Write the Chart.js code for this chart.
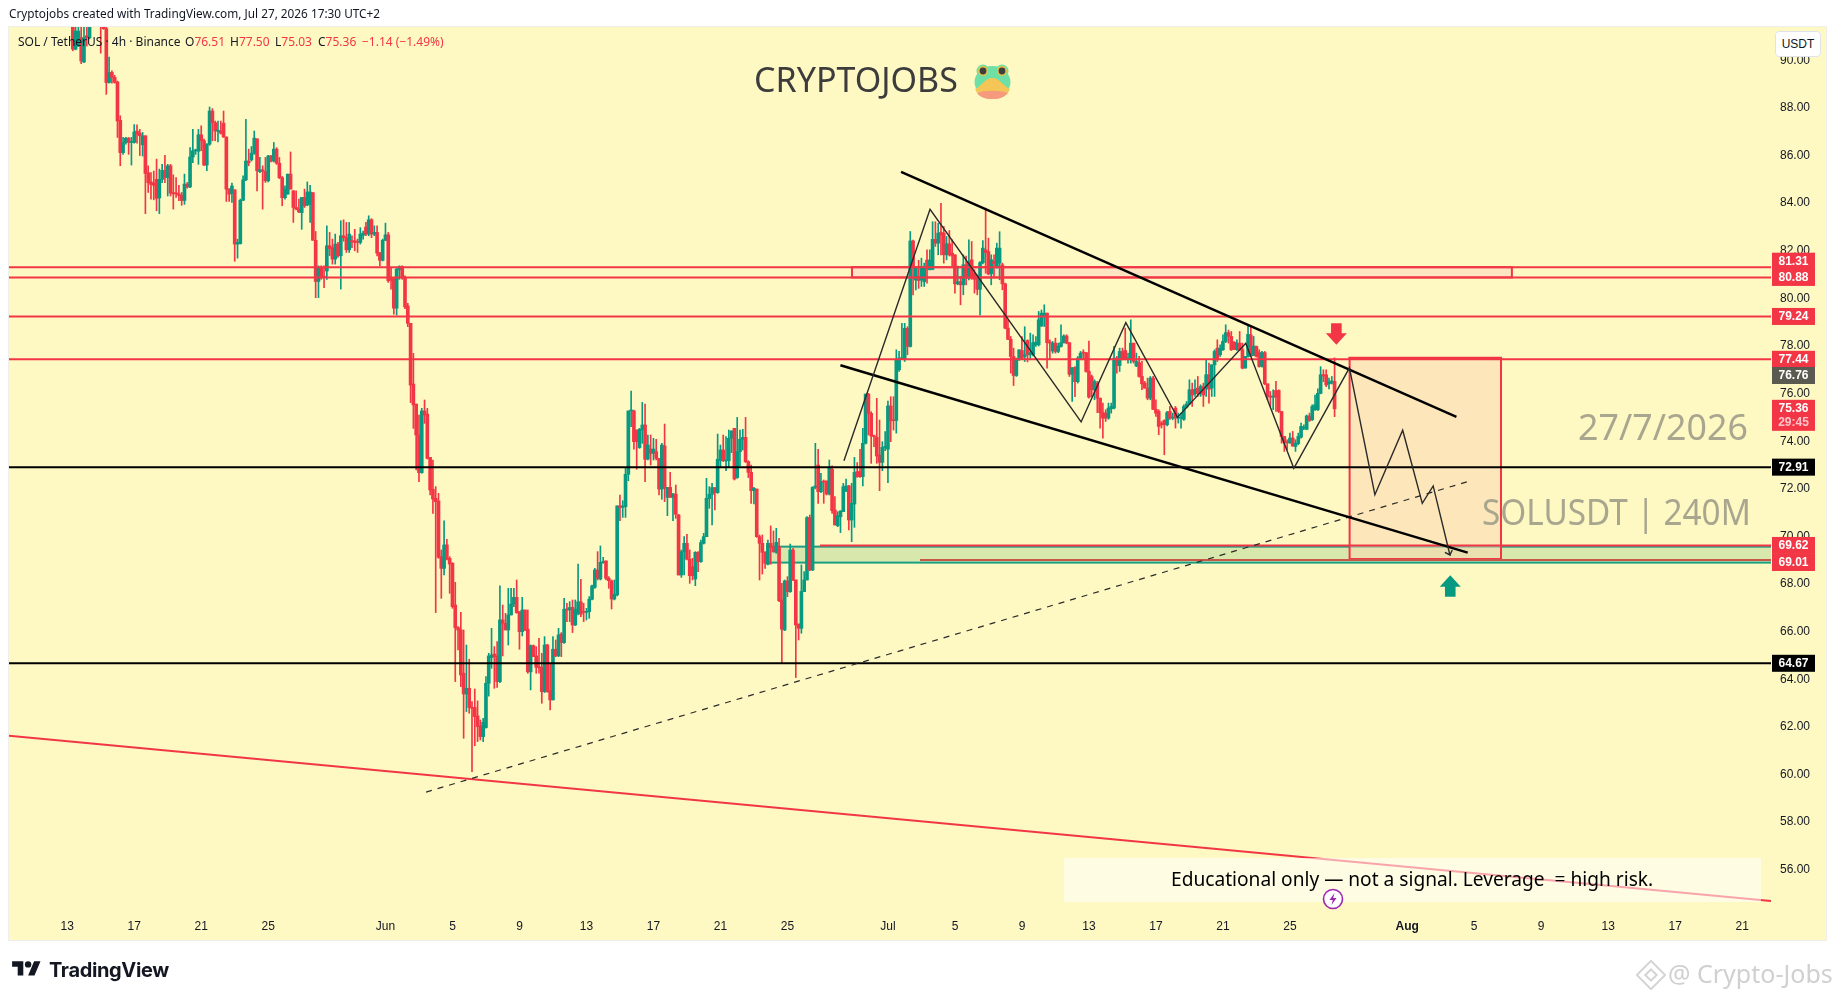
<!DOCTYPE html>
<html>
<head>
<meta charset="utf-8">
<title>SOLUSDT 240M</title>
<script src="https://cdn.jsdelivr.net/npm/chart.js@4"></script>
<style>
  html, body { margin: 0; padding: 0; background: #fff; overflow: hidden; }
  #wrap { position: relative; width: 1835px; height: 1000px; }
  #chart { position: absolute; left: 0; top: 0; }
  .t { position: absolute; white-space: pre; font-family: "Noto Sans", sans-serif; line-height: 1; }
  .leg { font-size: 12px; color: #131722; top: 36px; }
  .leg b { font-weight: normal; color: #f23645; }
  #note { position: absolute; left: 1064px; top: 858px; width: 697px; height: 44px; background: rgba(255,255,255,.55); }
  #usdt { position: absolute; left: 1775px; top: 31px; width: 44px; height: 24px; background: #fff; border: 1px solid #e0e3eb; border-radius: 4px;
          font: 12px "Liberation Sans", sans-serif; color: #131722; text-align: center; line-height: 24px; }
</style>
</head>
<body>
<div id="wrap">
  <canvas id="chart" width="1835" height="1000"></canvas>

  <div class="t" style="left:9px;top:8px;font-size:11.8px;color:#131722">Cryptojobs created with TradingView.com, Jul 27, 2026 17:30 UTC+2</div>
  <div class="t leg" style="left:18px">SOL / TetherUS · 4h · Binance</div>
  <div class="t leg" style="left:185px">O<b>76.51</b></div>
  <div class="t leg" style="left:230px">H<b>77.50</b></div>
  <div class="t leg" style="left:275px">L<b>75.03</b></div>
  <div class="t leg" style="left:318px">C<b>75.36</b></div>
  <div class="t leg" style="left:362px"><b>−1.14 (−1.49%)</b></div>

  <div class="t" style="left:754px;top:62px;font-size:34px;color:#3c3c3c">CRYPTOJOBS</div>
  <svg style="position:absolute;left:974px;top:62px" width="38" height="38" viewBox="0 0 38 38">
    <circle cx="9" cy="9" r="6.5" fill="#6fe0a5"/><circle cx="28" cy="9" r="6.5" fill="#6fe0a5"/>
    <ellipse cx="18.5" cy="20" rx="18" ry="16" fill="#6fe0a5"/>
    <path d="M1 27 C8 24 11 16 18 16 C26 16 29 24 36 27 C33 34 27 37 18.5 37 C10 37 4 34 1 27 Z" fill="#f5c556"/>
    <path d="M3 31 C10 28 27 28 34 31 C30 35 26 37 18.5 37 C11 37 6 35 3 31 Z" fill="#f59a7c"/>
    <circle cx="9" cy="9" r="5" fill="#e6c34a"/><circle cx="9" cy="9" r="3.4" fill="#3f3f3f"/>
    <circle cx="28" cy="9" r="5" fill="#e6c34a"/><circle cx="28" cy="9" r="3.4" fill="#3f3f3f"/>
  </svg>

  <div class="t" style="left:1578px;top:407px;font-size:37px;color:#a9a68f;transform:scaleX(.967);transform-origin:left">27/7/2026</div>
  <div class="t" style="left:1482px;top:494px;font-size:36px;color:#a9a68f;transform:scaleX(.925);transform-origin:left">SOLUSDT | 240M</div>

  <div id="note"></div>
  <div class="t" style="left:1171px;top:870px;font-size:19.15px;color:#000">Educational only — not a signal. Leverage  = high risk.</div>
  <svg style="position:absolute;left:1322px;top:888px" width="22" height="22" viewBox="0 0 22 22">
    <circle cx="11" cy="11" r="9.5" fill="#fff" stroke="#9c27b0" stroke-width="1.6"/>
    <path d="M12.5 5 L7.5 12 H10.8 L9.5 17 L14.5 10 H11.2 Z" fill="#9c27b0"/>
  </svg>

  <div id="usdt">USDT</div>

  <svg style="position:absolute;left:12px;top:958px" width="29" height="22.4" viewBox="0 0 36 28">
    <path d="M14 22H7V11H0V4h14v18zM28 22h-8l7.5-18h8L28 22z" fill="#131722"/><circle cx="20" cy="8" r="4" fill="#131722"/>
  </svg>
  <div class="t" style="left:49px;top:958px;font:700 20px Inter,sans-serif;letter-spacing:-.35px;color:#131722">TradingView</div>

  <svg style="position:absolute;left:1636px;top:960px" width="30" height="30" viewBox="0 0 30 30">
    <g fill="none" stroke="#d4d4d4" stroke-width="2">
      <rect x="5" y="5" width="20" height="20" transform="rotate(45 15 15)"/>
      <rect x="11" y="11" width="8" height="8" transform="rotate(45 15 15)"/>
    </g>
  </svg>
  <div class="t" style="left:1668px;top:961px;font-size:25px;color:#d0d0d0">@ Crypto-Jobs</div>
</div>

<script>
// candles, 4h
var opens = [
  92.4,90.47,90.6,90.95,89.93,91.03,90.95,91.6,92.4,92.9,
  92.5,92.0,91.33,89.07,89.49,89.28,89.09,87.48,86.12,86.55,
  86.73,86.55,86.55,87.03,86.94,86.45,86.83,85.28,84.89,84.84,
  85.0,84.22,85.0,85.38,85.07,85.57,84.44,84.42,84.39,84.33,
  84.11,84.8,84.68,85.94,86.2,86.18,86.87,86.62,85.6,86.48,
  87.87,87.38,87.02,87.03,87.36,86.78,84.59,84.4,84.56,82.28,
  82.3,84.12,84.98,85.77,85.82,86.1,86.7,85.33,85.4,85.33,
  84.94,85.98,85.77,86.27,85.68,85.07,84.23,84.38,85.22,84.52,
  83.82,83.75,83.6,84.24,83.92,83.95,84.44,82.44,80.71,81.3,
  80.91,81.15,82.21,82.13,81.65,82.28,81.79,82.63,82.55,82.04,
  82.42,82.42,82.37,82.35,82.65,83.0,82.7,83.3,82.7,82.77,
  81.9,81.6,82.44,82.67,80.83,80.83,79.59,81.2,81.34,80.88,
  79.68,78.95,76.4,75.56,74.26,72.68,75.27,75.14,73.32,71.98,
  71.6,71.49,69.15,68.66,69.64,69.08,68.87,67.12,66.17,66.07,
  64.25,63.38,63.62,62.82,62.81,62.46,62.04,61.59,61.97,63.83,
  64.91,65.06,64.98,63.9,66.49,66.35,66.07,66.7,67.16,67.44,
  66.84,66.0,66.91,66.1,64.31,65.41,64.98,64.53,64.5,63.48,
  65.44,63.52,63.13,65.26,64.98,65.9,65.54,66.94,66.91,67.02,
  66.28,66.77,67.25,66.84,66.81,66.84,67.36,67.86,68.59,68.21,
  68.9,68.97,68.24,68.13,67.37,67.54,71.28,71.22,71.25,72.61,
  75.27,75.27,74.47,73.73,74.47,74.68,73.25,73.67,73.49,73.56,
  73.28,71.99,73.8,71.64,72.06,71.64,71.78,70.9,68.38,69.36,
  69.71,69.04,68.73,68.21,69.33,68.94,69.71,69.99,71.59,71.77,
  72.05,71.84,73.18,73.63,73.17,73.18,74.12,74.54,72.47,73.56,
  74.08,74.16,73.14,72.69,71.92,71.99,69.99,69.71,69.33,68.83,
  69.71,69.57,69.33,69.57,67.33,66.07,68.13,67.68,69.43,68.17,
  66.32,66.14,67.68,68.17,70.79,68.59,72.06,73.0,71.88,72.3,
  72.33,71.78,72.82,71.11,70.45,70.83,71.04,71.92,72.12,70.69,
  71.36,72.72,72.72,72.51,73.91,75.98,75.17,74.22,74.16,73.42,
  73.11,73.74,73.66,75.48,74.89,74.87,77.0,77.46,77.42,78.74,
  77.98,82.41,80.77,80.91,80.77,80.7,81.61,81.2,81.22,82.48,
  82.32,82.77,82.74,81.83,82.29,81.9,81.83,80.61,80.7,80.57,
  81.41,80.92,81.62,81.06,80.92,80.38,81.5,82.04,81.97,81.03,
  81.55,81.31,81.48,81.41,80.61,78.75,78.28,77.56,76.76,77.42,
  77.81,77.56,78.23,77.63,77.63,78.05,78.05,78.84,79.26,79.38,
  78.14,77.79,78.12,77.77,77.98,78.14,78.42,78.14,76.81,77.09,
  76.5,77.49,77.72,77.72,76.93,76.71,76.16,76.44,75.81,75.2,
  75.18,74.97,75.36,75.39,77.49,77.18,77.77,77.81,77.42,77.46,
  78.12,77.16,77.3,76.72,76.44,76.23,75.81,76.65,75.34,75.25,
  74.76,74.87,74.69,75.25,74.97,75.39,74.97,74.97,74.92,75.43,
  75.57,76.16,75.99,76.23,76.02,76.3,76.23,76.79,76.23,77.21,
  77.91,77.63,77.84,78.19,78.56,78.4,78.16,77.84,78.12,77.84,
  77.07,77.56,78.46,77.6,77.98,77.72,77.14,77.72,76.41,75.9,
  75.85,76.13,76.13,75.25,74.2,73.98,73.92,74.13,73.78,73.9,
  74.17,74.55,74.5,75.06,74.9,75.32,75.32,76.01,76.79,76.79,
  76.41,76.44,76.51
];
var highs = [
  92.9,92.0,92.0,92.2,92.0,91.4,92.2,92.8,93.2,93.2,
  92.8,92.2,91.5,90.14,89.56,89.37,89.13,87.67,86.76,86.76,
  86.76,86.76,87.3,87.29,87.1,86.97,86.83,85.57,85.28,85.35,
  85.85,85.43,85.63,86.01,85.63,85.63,85.19,85.07,84.75,84.45,
  85.22,84.87,86.33,87.1,86.27,87.1,87.25,86.69,86.5,88.04,
  87.97,87.45,87.45,87.45,87.87,86.78,84.61,84.84,84.56,82.49,
  84.17,85.15,87.52,86.27,86.38,87.03,86.7,85.92,85.57,85.92,
  86.01,86.01,86.55,86.33,85.92,85.12,84.73,85.22,86.15,84.52,
  84.52,84.17,84.24,84.59,84.89,84.75,84.44,82.81,81.37,81.37,
  81.37,83.05,82.77,82.49,82.7,82.35,83.26,83.3,83.19,83.19,
  82.63,82.9,82.49,82.97,82.83,83.19,83.47,83.35,83.05,83.05,
  81.93,82.49,83.16,82.77,81.3,80.88,81.3,81.37,81.37,80.95,
  79.79,78.95,77.69,75.56,75.1,75.38,75.73,75.38,73.32,73.21,
  72.09,71.81,69.43,70.65,69.88,69.15,68.9,68.07,66.21,66.81,
  66.07,65.44,64.84,63.06,63.59,63.09,62.29,62.36,64.11,65.09,
  66.14,65.37,65.58,67.92,67.12,66.77,67.82,67.82,67.82,68.17,
  66.84,67.44,66.91,66.91,65.44,65.44,65.37,65.72,65.09,65.79,
  65.47,64.67,65.79,65.65,66.14,65.96,67.4,67.19,67.26,67.33,
  67.33,68.84,68.2,67.19,66.98,67.47,67.96,68.66,69.36,69.6,
  69.12,68.97,68.31,68.17,68.17,71.28,71.74,71.5,72.86,75.27,
  76.11,75.31,74.47,74.54,75.63,75.56,74.26,74.26,74.12,74.08,
  73.28,73.91,74.72,72.06,72.69,71.81,72.16,70.93,69.43,69.99,
  70.09,69.43,69.08,69.36,69.36,69.85,70.13,72.44,72.09,72.23,
  72.05,74.3,73.84,74.26,74.19,74.47,74.44,74.54,75.0,74.47,
  74.5,75.0,73.18,73.0,72.06,71.99,70.06,70.06,69.36,69.85,
  70.44,70.23,70.34,69.92,68.03,68.17,68.31,69.68,69.5,68.17,
  66.32,68.8,68.52,70.83,70.9,72.09,73.91,73.66,72.65,72.37,
  72.33,73.21,72.96,71.67,71.04,71.08,72.23,72.41,72.15,72.23,
  73.32,73.1,73.66,74.54,75.98,76.01,75.24,74.26,75.8,74.89,
  73.98,74.4,75.69,75.87,75.87,77.84,77.77,78.95,78.95,78.81,
  82.81,82.45,81.27,81.6,81.69,81.48,82.04,82.04,83.22,83.22,
  83.15,83.99,83.02,82.6,82.85,82.46,81.83,81.36,80.92,81.83,
  81.78,82.46,82.39,81.2,80.99,81.55,82.43,83.79,82.53,81.83,
  81.83,82.32,82.8,81.48,80.64,79.1,78.4,77.91,77.49,77.84,
  78.4,78.81,78.26,78.54,78.47,78.4,79.45,79.51,79.73,79.38,
  78.26,78.19,78.33,78.12,78.89,78.47,78.47,78.14,77.09,77.13,
  77.56,77.77,77.84,77.72,78.21,76.78,76.58,76.51,75.81,75.6,
  75.32,75.6,75.6,77.98,77.56,77.91,77.91,78.75,77.7,79.1,
  78.12,77.7,77.56,77.35,76.51,76.65,76.72,76.72,75.74,75.32,
  74.83,74.9,75.25,75.46,75.18,75.46,75.18,75.18,75.53,75.67,
  76.58,76.44,76.58,76.72,76.37,76.44,77.42,77.28,77.21,77.84,
  78.26,78.05,78.47,78.89,78.67,78.61,78.19,78.26,78.61,78.12,
  77.56,78.89,78.81,78.4,78.0,77.84,77.77,77.77,76.41,76.09,
  76.16,76.51,76.16,75.25,74.2,74.06,74.34,74.41,74.06,74.34,
  74.76,74.69,75.1,75.18,75.53,75.94,76.2,77.13,77.0,77.0,
  76.65,76.72,77.5
];
var lows = [
  90.4,90.44,90.58,89.86,89.9,90.6,90.9,91.5,92.1,92.0,
  90.3,91.3,88.57,89.04,89.04,89.04,86.76,85.57,86.05,86.48,
  86.05,85.6,86.52,86.52,86.0,85.98,83.56,84.45,84.17,84.14,
  83.68,83.56,84.86,84.86,84.3,84.3,83.75,84.24,84.1,83.91,
  83.95,84.63,84.65,85.7,86.05,85.63,86.2,85.57,85.36,86.43,
  86.62,86.62,86.57,86.9,86.76,84.07,84.07,84.03,81.56,81.69,
  82.28,84.1,84.94,85.57,85.77,86.05,84.51,85.28,83.75,84.87,
  84.89,85.73,85.73,85.63,85.03,83.89,84.17,84.38,84.59,83.19,
  83.72,83.6,82.9,83.82,83.89,83.19,82.44,80.03,80.03,80.8,
  80.45,80.8,81.79,81.44,81.44,81.72,80.39,82.4,81.93,81.93,
  82.13,82.0,81.93,82.28,82.49,82.63,82.63,82.55,82.63,81.78,
  81.37,81.57,82.42,80.67,80.39,79.34,79.3,80.8,80.8,79.57,
  78.81,75.62,74.54,72.79,72.3,72.65,74.75,73.25,71.74,70.97,
  66.8,69.08,67.4,68.38,69.01,67.61,66.98,63.9,65.23,63.69,
  61.52,62.64,62.57,60.12,61.21,61.38,61.45,61.38,61.94,63.29,
  64.46,63.62,63.66,63.86,64.98,66.07,65.44,66.7,67.05,66.77,
  65.26,65.82,66.04,64.25,63.55,64.95,64.25,64.25,62.99,63.44,
  63.45,62.71,63.13,64.95,64.95,64.95,65.51,66.42,66.42,65.96,
  66.25,66.7,66.63,66.42,66.49,66.56,67.33,67.82,68.17,68.17,
  68.87,68.17,67.82,66.95,67.33,67.5,70.66,70.8,70.8,72.34,
  74.61,73.66,72.82,73.7,73.91,72.3,73.21,73.0,73.21,73.21,
  71.74,71.56,71.46,70.87,71.64,70.66,70.76,68.38,68.28,68.38,
  69.01,68.03,68.17,67.93,68.52,68.91,69.68,69.99,71.18,70.48,
  71.11,71.81,72.93,73.14,72.76,72.9,73.52,72.37,72.44,72.96,
  73.63,73.1,72.47,71.39,71.36,69.96,68.17,68.42,68.66,68.8,
  68.83,69.33,69.29,67.26,64.7,66.04,67.47,67.65,68.14,64.07,
  65.65,65.93,67.68,68.17,68.56,68.56,72.0,71.39,71.84,71.39,
  71.74,71.74,70.97,70.48,70.41,70.16,71.04,71.88,70.27,69.78,
  70.38,72.48,72.48,72.12,73.88,74.26,73.07,73.77,73.07,71.92,
  72.76,73.6,72.26,73.98,74.47,74.34,76.93,77.42,77.35,77.63,
  77.95,80.15,80.35,80.42,80.5,80.5,80.64,81.2,81.2,82.18,
  81.83,81.83,81.48,81.62,81.78,81.36,80.22,80.57,79.73,80.15,
  80.57,80.78,80.8,80.22,80.15,79.3,81.45,81.06,80.99,80.57,
  80.92,81.27,80.78,80.36,78.72,78.26,76.86,76.34,76.72,77.39,
  77.42,77.35,77.33,77.42,77.58,77.98,78.0,78.82,78.82,77.07,
  77.42,77.7,77.7,77.72,77.95,78.12,78.09,76.72,75.67,75.87,
  76.44,77.42,77.42,76.9,75.81,75.87,75.74,75.2,74.55,74.13,
  74.83,74.92,75.18,75.36,76.86,76.93,77.42,77.42,77.28,77.28,
  77.28,77.13,76.69,76.16,76.23,75.74,75.74,75.32,75.04,74.27,
  74.55,73.43,74.64,74.92,74.9,74.55,74.76,74.55,74.87,75.39,
  75.53,75.46,75.88,75.88,75.88,75.46,75.88,75.6,75.88,75.88,
  77.35,77.56,77.81,78.14,78.12,77.81,77.84,77.81,77.81,77.04,
  77.07,77.53,77.56,77.6,77.53,77.11,77.11,76.37,75.74,75.46,
  75.32,75.25,75.2,73.92,73.57,73.64,73.92,73.78,73.57,73.85,
  74.13,74.48,74.48,74.83,74.87,75.29,75.29,75.99,76.5,76.29,
  76.2,76.4,75.03
];
var closes = [
  90.47,91.23,91.23,89.97,90.95,90.95,91.6,92.4,92.9,92.5,
  92.0,91.33,89.07,89.49,89.28,89.07,87.45,86.12,86.55,86.73,
  86.55,86.58,86.99,86.9,86.83,86.83,85.25,84.86,84.79,84.75,
  84.2,85.0,85.38,85.07,85.57,84.42,84.39,84.39,84.33,84.11,
  84.8,84.68,85.94,86.2,86.2,86.87,86.62,85.6,86.48,87.87,
  87.38,87.03,87.06,86.94,86.78,84.59,84.38,84.72,82.28,82.35,
  84.12,84.98,85.77,85.7,86.1,86.73,85.36,85.4,85.33,84.94,
  85.98,85.77,86.27,85.68,85.07,84.23,84.59,85.22,84.59,83.82,
  83.75,83.63,84.24,83.89,84.47,84.47,82.44,80.71,81.3,80.88,
  80.88,82.21,82.09,81.65,82.28,81.79,82.63,82.55,82.04,82.7,
  82.37,82.35,82.35,82.7,82.74,82.7,83.3,82.7,82.77,81.9,
  81.6,82.44,82.67,80.74,80.76,79.59,81.23,81.34,80.88,79.64,
  78.95,76.36,75.52,74.26,72.68,75.27,75.1,73.28,71.95,71.57,
  71.46,69.12,68.66,69.64,69.04,68.84,67.05,66.17,66.07,64.18,
  63.38,63.62,62.81,62.78,62.43,62.01,61.59,62.19,63.83,64.98,
  65.02,64.95,63.9,66.49,66.35,66.07,66.7,67.16,67.44,66.8,
  66.0,66.91,66.07,64.31,65.41,64.95,64.5,64.49,63.48,65.44,
  63.48,63.13,65.26,64.98,65.86,65.54,66.94,66.91,67.01,66.28,
  66.94,67.25,66.73,66.81,66.84,67.36,67.92,68.59,68.24,68.91,
  68.94,68.24,68.14,67.37,67.57,71.28,71.22,71.28,72.61,75.27,
  75.31,73.98,73.98,74.5,74.68,73.24,73.84,73.49,73.67,73.28,
  71.99,73.84,72.02,72.06,71.64,71.78,70.93,68.38,69.36,69.71,
  69.04,68.35,68.35,69.33,68.94,69.74,69.99,71.6,71.77,72.05,
  71.84,73.24,73.63,73.18,73.18,74.12,74.43,72.41,73.56,74.08,
  74.16,73.14,72.69,71.92,72.02,69.99,69.71,69.33,68.87,69.71,
  69.53,69.36,69.75,67.3,66.1,68.13,67.68,69.43,68.17,66.28,
  66.14,67.69,68.17,70.79,68.59,72.06,72.12,71.88,72.3,72.28,
  71.78,72.86,71.08,70.48,70.87,71.07,72.09,72.12,70.69,71.39,
  72.69,72.51,72.51,73.91,75.98,75.17,74.22,74.19,73.38,73.11,
  73.74,73.77,75.48,74.86,74.86,77.44,77.49,77.49,78.74,77.98,
  82.41,81.27,81.27,80.75,81.34,81.27,81.22,81.61,82.48,82.32,
  82.74,82.67,81.83,82.29,81.83,81.78,80.61,80.7,80.57,81.41,
  80.85,81.55,80.85,80.8,80.38,81.5,82.11,81.92,81.03,81.62,
  81.45,82.11,82.11,80.61,78.75,78.28,77.56,76.76,77.46,77.84,
  77.49,77.63,77.63,77.72,78.14,78.16,79.1,79.38,79.38,78.14,
  78.12,78.12,77.77,78.0,78.14,78.42,78.12,76.81,77.09,76.5,
  77.49,77.7,77.7,76.93,75.85,76.16,76.51,75.81,75.2,74.97,
  74.97,75.39,75.46,77.49,77.18,77.77,77.42,77.46,77.49,78.12,
  77.35,77.35,76.72,76.41,76.23,75.81,76.65,75.34,75.18,74.62,
  74.69,74.69,75.2,74.97,75.01,74.97,75.01,75.01,75.46,75.57,
  76.16,75.94,76.18,75.99,76.3,75.94,76.79,76.18,77.21,77.77,
  77.42,77.91,78.19,78.56,78.4,77.84,77.86,78.12,77.84,77.07,
  77.56,78.49,77.58,78.0,77.56,77.14,77.72,76.41,75.88,75.85,
  75.88,75.85,75.25,74.2,73.92,73.94,74.13,73.8,73.92,74.2,
  74.62,74.59,75.06,74.87,75.46,75.53,76.01,76.79,76.74,76.36,
  76.5,76.53,75.36
];

// x axis is days counted from Jun 1
var firstCandleDay = -18.67;
var candlesPerDay = 6;
var xMin = -22.48, xMax = 82.72;
var yMin = 54.39, yMax = 91.40;

var timeTickDays = [-19,-15,-11,-7,0,4,8,12,16,20,24,30,34,38,42,46,50,54,61,65,69,73,77,81];
var timeTickLabels = ['13','17','21','25','Jun','5','9','13','17','21','25','Jul','5','9','13','17','21','25','Aug','5','9','13','17','21'];
var priceTicks = [56,58,60,62,64,66,68,70,72,74,76,78,80,82,84,86,88,90];

// horizontal levels
var levelPrices = [81.31,80.88,79.24,77.44,72.91,64.67,69.62,69.01];
var levelStarts = [xMin,xMin,xMin,xMin,xMin,xMin,25.94,31.91];
var levelColors = ['#f23645','#f23645','#f23645','#f23645','#000000','#000000','#f23645','#c95848'];

// hand drawn lines
var upperDays = [30.78,63.94],   upperPrices = [85.31,75.02];
var lowerDays = [27.16,64.61],   lowerPrices = [77.19,69.32];
var dashDays = [2.42,64.75],     dashPrices = [59.26,72.33];
var longDays = [-22.48,82.72],   longPrices = [61.63,54.68];
var zigDays = [27.37,32.51,41.53,44.2,47.28,51.36,54.23,57.55,59.07,60.73,61.9,62.55,63.55,63.25,63.55,63.69];
var zigPrices = [73.18,83.74,74.81,78.98,75.0,78.11,72.86,77.08,71.75,74.46,71.39,72.12,69.22,69.33,69.22,69.43];

// boxes: [day from, day to, price top, price bottom]
var supplyBox = [27.85,67.25,81.31,80.88];
var greenZone = [22.72,82.72,69.57,68.9];
var tradeBox = [57.56,66.6,77.5,69.05];

// price tags on the right scale
var tagPrices = [81.31,80.88,79.24,77.44,76.76,72.91,69.62,69.01,64.67];
var tagTexts = ['81.31','80.88','79.24','77.44','76.76','72.91','69.62','69.01','64.67'];
var tagColors = ['#f23645','#f23645','#f23645','#f23645','#5a5a50','#000000','#f23645','#f23645','#000000'];
var tagShift = [-6,0,0,0,0,0,0,2.5,0];
var lastPrice = 75.36, countdown = '29:45';

var RED = '#f23645', GREEN = '#089981';

function boxRect(chart, b) {
    var xs = chart.scales.x, ys = chart.scales.y;
    var l = xs.getPixelForValue(b[0]), r = xs.getPixelForValue(b[1]);
    var t = ys.getPixelForValue(b[2]), btm = ys.getPixelForValue(b[3]);
    return {l: l, t: t, w: r - l, h: btm - t};
}

function drawArrow(ctx, x, y, dir, color) {
    // dir 1 points down, tip at x,y
    ctx.fillStyle = color;
    ctx.beginPath();
    ctx.moveTo(x, y);
    ctx.lineTo(x - 10.5, y - dir * 11.5);
    ctx.lineTo(x - 5.3, y - dir * 11.5);
    ctx.lineTo(x - 5.3, y - dir * 21.5);
    ctx.lineTo(x + 5.3, y - dir * 21.5);
    ctx.lineTo(x + 5.3, y - dir * 11.5);
    ctx.lineTo(x + 10.5, y - dir * 11.5);
    ctx.closePath();
    ctx.fill();
}

function drawTag(ctx, cy, h, color) {
    ctx.fillStyle = color;
    ctx.fillRect(1772, cy - h / 2, 43, h);
}

const panelPlugin = {
    id: 'panelPlugin',
    beforeDraw: (chart) => {
        const ctx = chart.ctx;
        ctx.save();
        ctx.fillStyle = '#ffffff';
        ctx.fillRect(0, 0, 1835, 1000);
        ctx.fillStyle = '#eeeeea';
        ctx.fillRect(8, 26, 1819, 915);
        ctx.fillStyle = '#fef8c3';
        ctx.fillRect(9, 27, 1817, 913);
        ctx.restore();
    },
    beforeDatasetsDraw: (chart) => {
        const ctx = chart.ctx;
        ctx.save();
        var g = boxRect(chart, greenZone);
        ctx.fillStyle = '#d8e8ac';
        ctx.fillRect(g.l, g.t, g.w, g.h);
        ctx.fillStyle = '#1b9e82';
        ctx.fillRect(g.l, g.t - 1, g.w, 2);
        ctx.fillRect(g.l, g.t + g.h - 1, g.w, 2);

        var s = boxRect(chart, supplyBox);
        ctx.fillStyle = '#fee4c2';
        ctx.fillRect(s.l, s.t, s.w, s.h);
        ctx.strokeStyle = RED;
        ctx.lineWidth = 2;
        ctx.strokeRect(s.l, s.t, s.w, s.h);

        var b = boxRect(chart, tradeBox);
        ctx.fillStyle = 'rgba(252,214,178,0.5)';
        ctx.fillRect(b.l, b.t, b.w, b.h);
        ctx.strokeStyle = RED;
        ctx.lineWidth = 2;
        ctx.strokeRect(b.l, b.t, b.w, b.h);
        ctx.fillStyle = RED;
        ctx.fillRect(b.l - 1, b.t - 1, b.w + 2, 3);
        ctx.restore();
    },
    afterDatasetsDraw: (chart) => {
        const ctx = chart.ctx;
        var xs = chart.scales.x, ys = chart.scales.y;
        ctx.save();
        drawArrow(ctx, xs.getPixelForValue(56.77), ys.getPixelForValue(78.05), 1, RED);
        drawArrow(ctx, xs.getPixelForValue(63.57), ys.getPixelForValue(68.37), -1, GREEN);
        ctx.restore();
    },
    afterDraw: (chart) => {
        const ctx = chart.ctx;
        var ys = chart.scales.y;
        ctx.save();
        ctx.font = 'bold 12px "Liberation Sans", sans-serif';
        ctx.textAlign = 'center';
        ctx.textBaseline = 'middle';
        tagPrices.forEach(function(p, i) {
            var cy = ys.getPixelForValue(p) + tagShift[i];
            drawTag(ctx, cy, 17, tagColors[i]);
            ctx.fillStyle = '#ffffff';
            ctx.fillText(tagTexts[i], 1793.5, cy + 0.5);
        });
        // last price with countdown
        var c = ys.getPixelForValue(lastPrice) + 6.5;
        drawTag(ctx, c, 31, RED);
        ctx.fillStyle = '#ffffff';
        ctx.fillText(lastPrice.toFixed(2), 1793.5, c - 7);
        ctx.fillStyle = '#ffc4c9';
        ctx.fillText(countdown, 1793.5, c + 7.5);
        ctx.restore();
    }
};

function lineSet(days, prices, color, width, order, dash) {
    return {
        type: 'line',
        data: days.map(function(d, i) { return {x: d, y: prices[i]}; }),
        borderColor: color,
        borderWidth: width,
        borderDash: dash || [],
        pointRadius: 0,
        tension: 0,
        fill: false,
        order: order
    };
}

var candleDays = opens.map(function(o, i) { return firstCandleDay + i / candlesPerDay; });
var candleColors = opens.map(function(o, i) { return closes[i] >= o ? GREEN : RED; });

var datasets = [{
    // wicks
    data: candleDays.map(function(d, i) { return {x: d, y: [lows[i], highs[i]]}; }),
    backgroundColor: candleColors,
    barThickness: 1,
    grouped: false,
    order: 10
}, {
    // bodies
    data: candleDays.map(function(d, i) { return {x: d, y: [Math.min(opens[i], closes[i]), Math.max(opens[i], closes[i])]}; }),
    backgroundColor: candleColors,
    barThickness: 3,
    minBarLength: 1,
    grouped: false,
    order: 9
}];

levelPrices.forEach(function(p, i) {
    datasets.push(lineSet([levelStarts[i], xMax], [p, p], levelColors[i], 2, 3));
});
datasets.push(lineSet(longDays, longPrices, RED, 2, 3));
datasets.push(lineSet(upperDays, upperPrices, '#000000', 2.4, 2));
datasets.push(lineSet(lowerDays, lowerPrices, '#000000', 2.4, 2));
datasets.push(lineSet(dashDays, dashPrices, '#2a2a2a', 1.2, 2, [6, 6]));
datasets.push(lineSet(zigDays, zigPrices, '#2a2a2a', 1.4, 1));

new Chart(document.getElementById('chart').getContext('2d'), {
    type: 'bar',
    data: {datasets: datasets},
    plugins: [panelPlugin],
    options: {
        responsive: false,
        animation: false,
        events: [],
        devicePixelRatio: 1,
        layout: {padding: {left: 9, top: 27, right: 9, bottom: 60}},
        plugins: {legend: {display: false}, tooltip: {enabled: false}, title: {display: false}},
        scales: {
            x: {
                type: 'linear',
                offset: false,
                min: xMin,
                max: xMax,
                grid: {display: false, drawTicks: false},
                border: {display: false},
                afterBuildTicks: function(s) { s.ticks = timeTickDays.map(function(v) { return {value: v}; }); },
                afterFit: function(s) { s.height = 32; },
                ticks: {
                    autoSkip: false,
                    maxRotation: 0,
                    padding: 11,
                    color: '#131722',
                    font: function(c) {
                        var isAug = c.tick && c.tick.value === 61;
                        return {family: '"Liberation Sans", sans-serif', size: 12, weight: isAug ? 'bold' : 'normal'};
                    },
                    callback: function(v) { return timeTickLabels[timeTickDays.indexOf(v)]; }
                }
            },
            y: {
                type: 'linear',
                position: 'right',
                min: yMin,
                max: yMax,
                grid: {display: false, drawTicks: false},
                border: {display: false},
                afterBuildTicks: function(s) { s.ticks = priceTicks.map(function(v) { return {value: v}; }); },
                afterFit: function(s) { s.width = 55; },
                ticks: {
                    autoSkip: false,
                    padding: 9,
                    color: '#131722',
                    font: {family: '"Liberation Sans", sans-serif', size: 12},
                    callback: function(v) { return v.toFixed(2); }
                }
            }
        }
    }
});
</script>
</body>
</html>
